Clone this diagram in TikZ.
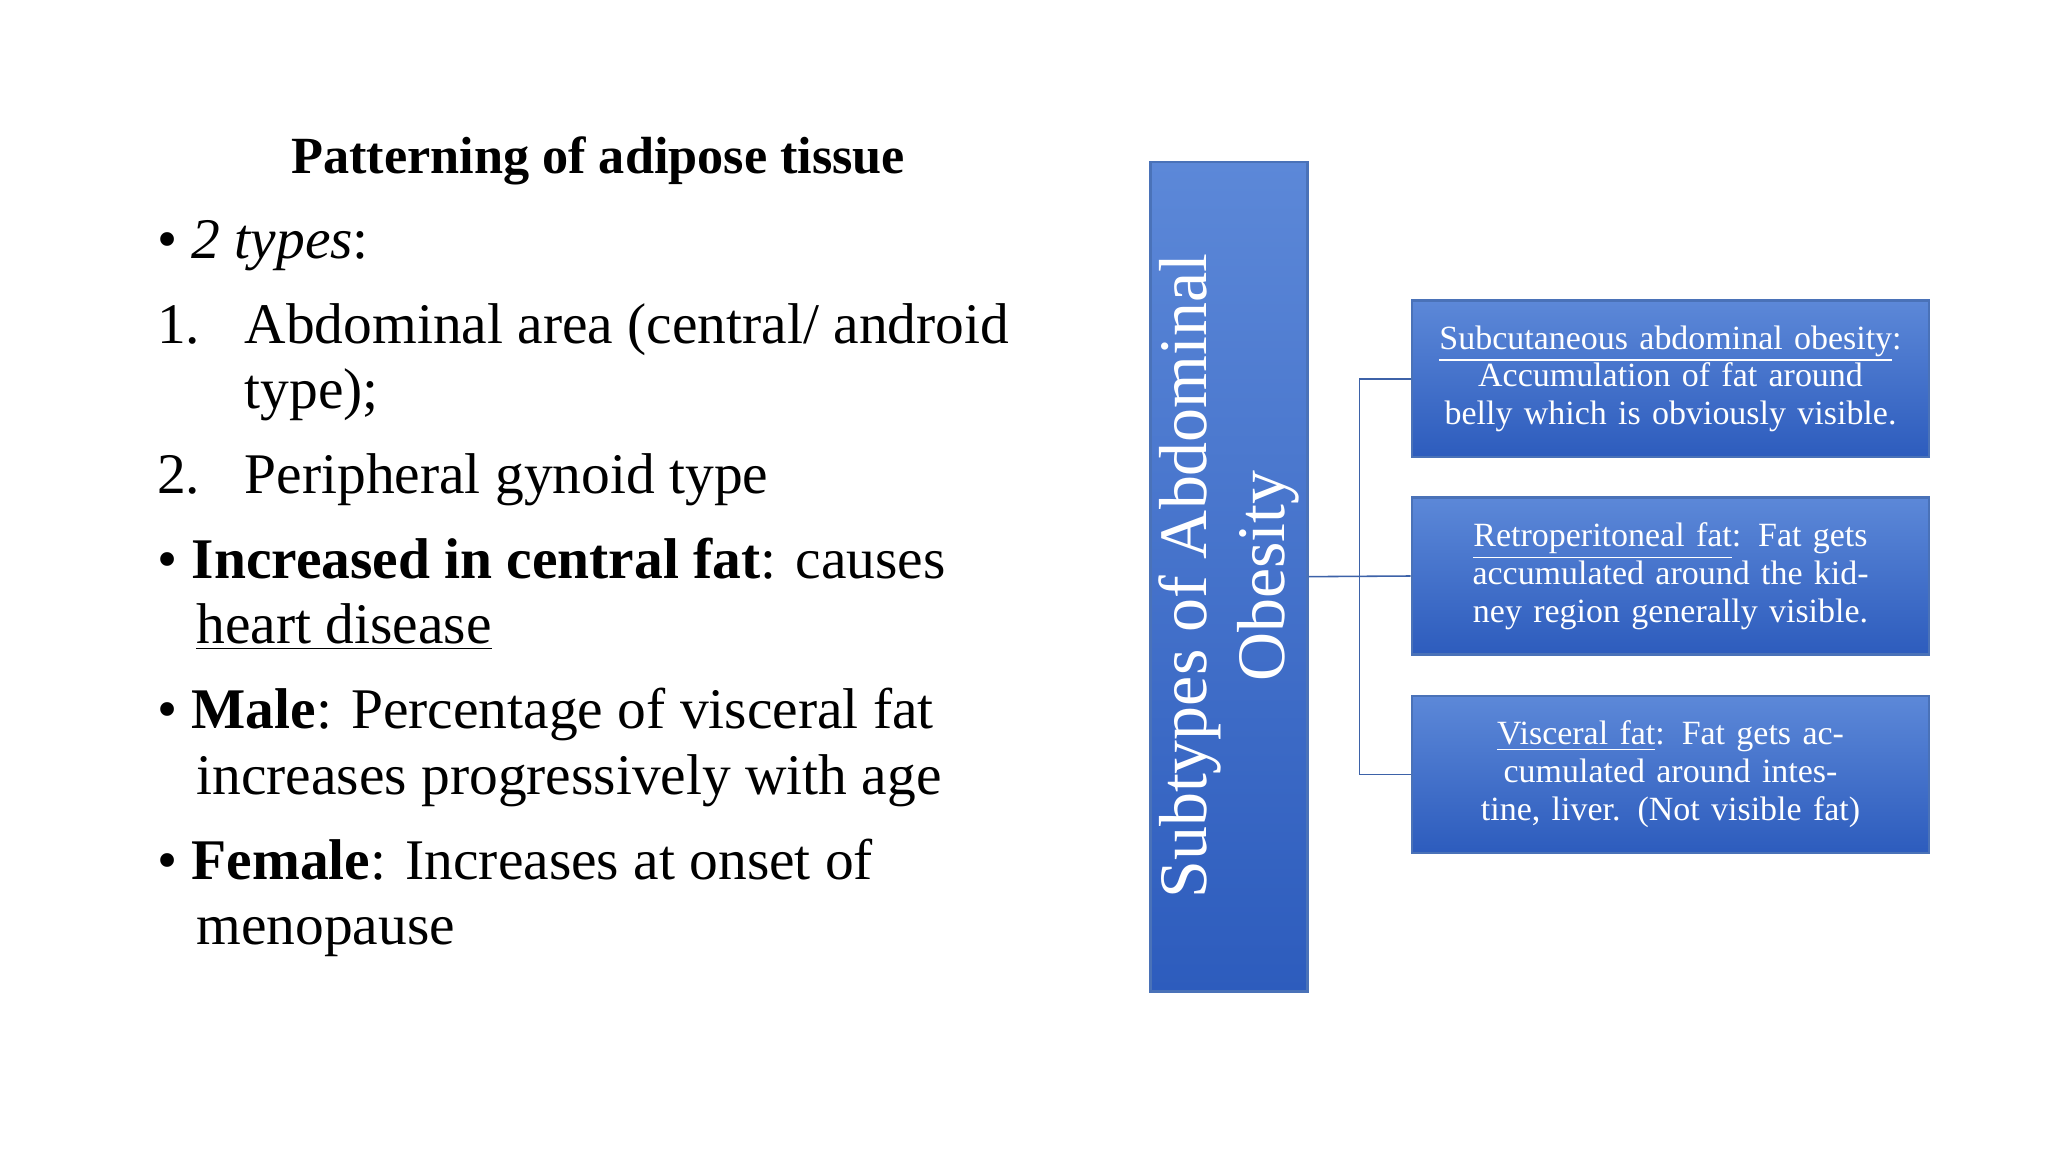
\documentclass[tikz,border=0pt]{standalone}
\usepackage{fontspec}
\setmainfont{Liberation Serif}
\usetikzlibrary{shadings}
\definecolor{boxtop}{HTML}{5C88D8}
\definecolor{boxbot}{HTML}{2D5CBD}
\definecolor{edgec}{HTML}{4A72B8}
\definecolor{linec}{HTML}{3D62A8}
\tikzset{
 lt/.style={anchor=base west,inner sep=0pt,font=\fontsize{22}{26}\selectfont},
 sub/.style={draw=edgec,line width=1pt,top color=boxtop,bottom color=boxbot,minimum width=198pt,minimum height=60pt,inner sep=1pt,text=white,align=center,text width=196pt,font=\fontsize{13}{14.5}\selectfont},
 conn/.style={draw=linec,line width=0.6pt}
}
\begin{document}
\begin{tikzpicture}[x=0.5pt,y=-0.5pt]
\useasboundingbox[fill=white] (0,0) rectangle (1568,882);
\node[anchor=base,inner sep=0pt,font=\fontsize{20}{24}\selectfont\bfseries] (title) at (458,133) {Patterning of adipose tissue};
\node[lt] (b1) at (120,198) {• \textit{2 types}:};
\node[lt] (n1) at (120,263) {1.};
\node[lt] (t1) at (187,263) {Abdominal area (central/ android};
\node[lt] (t1b) at (187,313) {type);};
\node[lt] (n2) at (120,378) {2.};
\node[lt] (t2) at (187,378) {Peripheral gynoid type};
\node[lt] (b2) at (120,443) {• \textbf{Increased in central fat}: causes};
\node[lt] (b2b) at (150,493) {\underline{heart disease}};
\node[lt] (b3) at (120,558) {• \textbf{Male}: Percentage of visceral fat};
\node[lt] (b3b) at (150,608) {increases progressively with age};
\node[lt] (b4) at (120,673) {• \textbf{Female}: Increases at onset of};
\node[lt] (b4b) at (150,723) {menopause};

\node[draw=edgec,line width=1pt,top color=boxtop,bottom color=boxbot,minimum width=60pt,minimum height=317.5pt,inner sep=0pt] (main) at (941,441.5) {};
\node[rotate=90,text=white,align=center,font=\fontsize{26}{30}\selectfont] (mt) at (941,441) {Subtypes of Abdominal\\Obesity};

\node[sub] (s1) at (1279,290) {\underline{Subcutaneous abdominal obesity}: Accumulation of fat around belly which is obviously visible.};
\node[sub] (s2) at (1279,441) {\underline{Retroperitoneal fat}: Fat gets accumulated around the kidney region generally visible.};
\node[sub] (s3) at (1279,593) {\underline{Visceral fat}: Fat gets accumulated around intestine, liver. (Not visible fat)};

\coordinate (j) at (1041,441);
\draw[conn] (main.east) -- (s2.west);
\draw[conn] (s1.west) -- (j |- s1.west) -- (j |- s3.west) -- (s3.west);
\end{tikzpicture}
\end{document}
